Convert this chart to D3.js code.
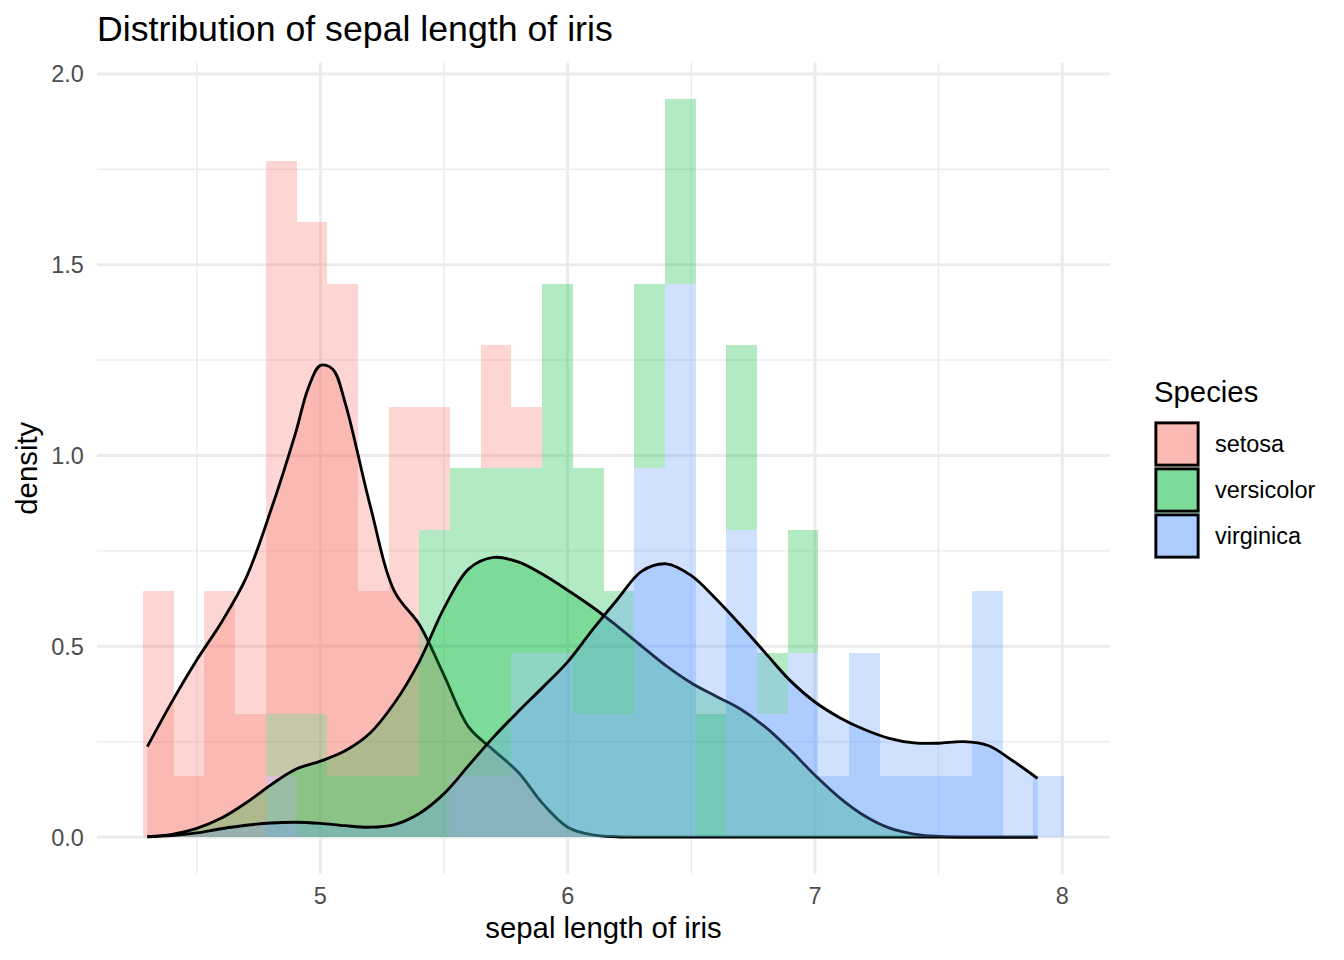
<!DOCTYPE html>
<html><head><meta charset="utf-8">
<script src="https://cdn.jsdelivr.net/npm/d3@7"></script>
<style>
body{margin:0;background:#fff}
text{font-family:"Liberation Sans",Arial,Helvetica,sans-serif}
</style>
</head><body>
<svg id="chart" width="1344" height="960"></svg>
<script>
// ---------------- data ----------------
const species = ["setosa", "versicolor", "virginica"];
const speciesColors = ["#F8766D", "#00BA38", "#619CFF"];

// histogram bin edges (30 bins)
const binEdges = [4.28276, 4.40690, 4.53103, 4.65517, 4.77931, 4.90345, 5.02759, 5.15172,
  5.27586, 5.40000, 5.52414, 5.64828, 5.77241, 5.89655, 6.02069, 6.14483, 6.26897, 6.39310,
  6.51724, 6.64138, 6.76552, 6.88966, 7.01379, 7.13793, 7.26207, 7.38621, 7.51034, 7.63448,
  7.75862, 7.88276, 8.00690];

// histogram densities per species (stacked in the chart)
const setosaHist = [0.644, 0.161, 0.644, 0.322, 1.450, 1.289, 1.289, 0.483, 0.967, 0.322,
  0, 0.322, 0.161, 0, 0, 0, 0, 0, 0, 0, 0, 0, 0, 0, 0, 0, 0, 0, 0, 0];
const versicolorHist = [0, 0, 0, 0, 0.161, 0.322, 0.161, 0.161, 0.161, 0.806,
  0.806, 0.806, 0.483, 0.967, 0.644, 0.322, 0.483, 0.483, 0.322, 0.483,
  0.161, 0.322, 0, 0, 0, 0, 0, 0, 0, 0];
const virginicaHist = [0, 0, 0, 0, 0.161, 0, 0, 0, 0, 0,
  0.161, 0.161, 0.483, 0.483, 0.322, 0.322, 0.967, 1.450, 0, 0.806,
  0.322, 0.483, 0.161, 0.483, 0.161, 0.161, 0.161, 0.644, 0, 0.161];

// kernel density curves
const setosaX = [4.3, 4.4, 4.5, 4.6, 4.7, 4.8, 4.9, 4.95, 5.0, 5.05, 5.1, 5.2, 5.3, 5.4, 5.5,
  5.6, 5.7, 5.8, 5.9, 6.0, 6.1, 6.2, 6.3, 6.4, 6.5, 6.6, 6.7, 6.8, 6.9, 7.0, 7.1, 7.2, 7.3,
  7.4, 7.5, 7.6, 7.7, 7.8, 7.9];
const setosaDensity = [0.237, 0.355, 0.464, 0.563, 0.680, 0.857, 1.060, 1.175, 1.236, 1.226,
  1.138, 0.872, 0.643, 0.557, 0.424, 0.288, 0.228, 0.170, 0.087, 0.026, 0.006, 0.001, 0, 0,
  0, 0, 0, 0, 0, 0, 0, 0, 0, 0, 0, 0, 0, 0, 0];
const densityX = [4.3, 4.4, 4.5, 4.6, 4.7, 4.8, 4.9, 5.0, 5.1, 5.2, 5.3, 5.4, 5.5, 5.6, 5.7,
  5.8, 5.9, 6.0, 6.1, 6.2, 6.3, 6.4, 6.5, 6.6, 6.7, 6.8, 6.9, 7.0, 7.1, 7.2, 7.3, 7.4,
  7.5, 7.6, 7.7, 7.8, 7.9];
const versicolorDensity = [0.001, 0.007, 0.023, 0.050, 0.090, 0.137, 0.178, 0.199, 0.226,
  0.272, 0.352, 0.460, 0.600, 0.703, 0.733, 0.721, 0.688, 0.647, 0.603, 0.553, 0.500, 0.448,
  0.404, 0.369, 0.335, 0.288, 0.228, 0.162, 0.103, 0.056, 0.024, 0.008, 0.002, 0, 0, 0, 0];
const virginicaDensity = [0.001, 0.004, 0.011, 0.022, 0.031, 0.037, 0.039, 0.036, 0.030,
  0.026, 0.033, 0.062, 0.114, 0.188, 0.262, 0.329, 0.393, 0.459, 0.543, 0.622, 0.697, 0.716,
  0.685, 0.624, 0.555, 0.482, 0.410, 0.354, 0.313, 0.282, 0.259, 0.247, 0.246, 0.250, 0.240,
  0.200, 0.154];

const xTicks = [5, 6, 7, 8];
const xMinorTicks = [4.5, 5.5, 6.5, 7.5];
const yTicks = [0, 0.5, 1.0, 1.5, 2.0];
const yMinorTicks = [0.25, 0.75, 1.25, 1.75];

const titleText = "Distribution of sepal length of iris";
const xTitle = "sepal length of iris";
const yTitle = "density";
const legendTitle = "Species";

// ---------------- layout ----------------
const panel = {left: 97, right: 1110, top: 62.5, bottom: 874};
const svg = d3.select("#chart");

// build stacked table
const histTable = binEdges.slice(0, -1).map((x0, i) => ({
  x0: x0, x1: binEdges[i + 1],
  setosa: setosaHist[i], versicolor: versicolorHist[i], virginica: virginicaHist[i]
}));
const stacked = d3.stack().keys(["virginica", "versicolor", "setosa"])(histTable);

const xMin = binEdges[0], xMax = binEdges[binEdges.length - 1];
const xPad = (xMax - xMin) * 0.05;
const yMax = d3.max(stacked[stacked.length - 1], d => d[1]);
const yPad = yMax * 0.05;

const x = d3.scaleLinear().domain([xMin - xPad, xMax + xPad]).range([panel.left, panel.right]);
const y = d3.scaleLinear().domain([-yPad, yMax + yPad]).range([panel.bottom, panel.top]);

const grid = "#EBEBEB";
const g = svg.append("g");

// minor grid
g.append("g").selectAll("line").data(xMinorTicks).join("line")
  .attr("x1", d => x(d)).attr("x2", d => x(d)).attr("y1", panel.top).attr("y2", panel.bottom)
  .attr("stroke", grid).attr("stroke-width", 1.42);
g.append("g").selectAll("line").data(yMinorTicks).join("line")
  .attr("y1", d => y(d)).attr("y2", d => y(d)).attr("x1", panel.left).attr("x2", panel.right)
  .attr("stroke", grid).attr("stroke-width", 1.42);
// major grid
g.append("g").selectAll("line").data(xTicks).join("line")
  .attr("x1", d => x(d)).attr("x2", d => x(d)).attr("y1", panel.top).attr("y2", panel.bottom)
  .attr("stroke", grid).attr("stroke-width", 2.85);
g.append("g").selectAll("line").data(yTicks).join("line")
  .attr("y1", d => y(d)).attr("y2", d => y(d)).attr("x1", panel.left).attr("x2", panel.right)
  .attr("stroke", grid).attr("stroke-width", 2.85);

// histogram (stacked, alpha)
const colorOf = k => speciesColors[species.indexOf(k)];
const histG = g.append("g");
["setosa", "versicolor", "virginica"].forEach(k => {
  const layer = stacked.find(s => s.key === k);
  histG.append("g").selectAll("rect").data(layer.filter(d => d[1] - d[0] > 0)).join("rect")
    .attr("x", d => x(d.data.x0))
    .attr("width", d => x(d.data.x1) - x(d.data.x0))
    .attr("y", d => y(d[1]))
    .attr("height", d => y(d[0]) - y(d[1]))
    .attr("fill", colorOf(k)).attr("fill-opacity", 0.3)
    .attr("shape-rendering", "crispEdges");
});

// density curves
const densityXs = [setosaX, densityX, densityX];
const densities = [setosaDensity, versicolorDensity, virginicaDensity];
const curve = d3.curveCatmullRom.alpha(0.5);
species.forEach((s, si) => {
  const pts = densityXs[si].map((xv, i) => [xv, densities[si][i]]);
  const area = d3.area().x(d => x(d[0])).y0(y(0)).y1(d => y(d[1])).curve(curve);
  const line = d3.line().x(d => x(d[0])).y(d => y(d[1])).curve(curve);
  g.append("path").datum(pts).attr("d", area)
    .attr("fill", speciesColors[si]).attr("fill-opacity", 0.3);
  g.append("path").datum(pts).attr("d", line)
    .attr("fill", "none").attr("stroke", "#000").attr("stroke-width", 2.85)
    .attr("stroke-linejoin", "round").attr("stroke-linecap", "butt");
});

// axes labels
const tickCol = "#4D4D4D";
g.append("g").selectAll("text").data(xTicks).join("text")
  .attr("x", d => x(d)).attr("y", 903.8).attr("text-anchor", "middle")
  .attr("font-size", 23.47).attr("fill", tickCol).text(d => d3.format("d")(d));
g.append("g").selectAll("text").data(yTicks).join("text")
  .attr("x", 83.8).attr("y", d => y(d) + 8.4).attr("text-anchor", "end")
  .attr("font-size", 23.47).attr("fill", tickCol).text(d => d3.format(".1f")(d));

svg.append("text").attr("x", (panel.left + panel.right) / 2).attr("y", 937.5)
  .attr("text-anchor", "middle").attr("font-size", 29.33).attr("fill", "#000").text(xTitle);
svg.append("text").attr("transform", `translate(37,${(panel.top + panel.bottom) / 2}) rotate(-90)`)
  .attr("text-anchor", "middle").attr("font-size", 29.33).attr("fill", "#000").text(yTitle);

svg.append("text").attr("x", panel.left).attr("y", 40.5)
  .attr("font-size", 35.7).attr("fill", "#000").text(titleText);

// legend
const leg = svg.append("g");
leg.append("text").attr("x", 1154).attr("y", 402).attr("font-size", 29.33).attr("fill", "#000").text(legendTitle);
const keyTop = 421, keySize = 46, keyLeft = 1154, inset = 1.9;
species.forEach((s, i) => {
  const ky = keyTop + i * keySize;
  leg.append("rect").attr("x", keyLeft).attr("y", ky).attr("width", keySize).attr("height", keySize)
    .attr("fill", speciesColors[i]).attr("fill-opacity", 0.3);
  leg.append("rect").attr("x", keyLeft + inset).attr("y", ky + inset)
    .attr("width", keySize - 2 * inset).attr("height", keySize - 2 * inset)
    .attr("fill", speciesColors[i]).attr("fill-opacity", 0.3)
    .attr("stroke", "#000").attr("stroke-width", 2.85);
  leg.append("text").attr("x", 1215).attr("y", ky + keySize / 2 + 8.4)
    .attr("font-size", 23.47).attr("fill", "#000").text(s);
});
</script>
</body></html>
